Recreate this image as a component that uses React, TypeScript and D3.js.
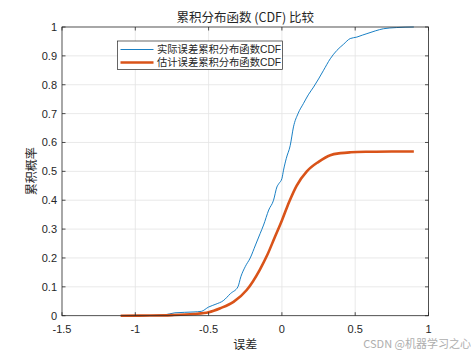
import React from "react";
import * as d3 from "d3";

const actualX = [-0.95, -0.8, -0.73, -0.6, -0.55, -0.5, -0.45, -0.4, -0.35, -0.3, -0.28, -0.25, -0.216, -0.18, -0.148, -0.125, -0.09, -0.057, -0.034, -0.02, 0, 0.011, 0.03, 0.057, 0.079, 0.11, 0.147, 0.18, 0.216, 0.25, 0.284, 0.33, 0.375, 0.42, 0.466, 0.511, 0.55, 0.58, 0.64, 0.693, 0.78, 0.9];
const actualY = [0, 0.003, 0.01, 0.013, 0.015, 0.03, 0.04, 0.052, 0.077, 0.1, 0.135, 0.17, 0.2, 0.245, 0.285, 0.314, 0.366, 0.4, 0.446, 0.458, 0.475, 0.504, 0.545, 0.59, 0.654, 0.7, 0.735, 0.765, 0.792, 0.82, 0.85, 0.89, 0.919, 0.94, 0.96, 0.965, 0.972, 0.977, 0.987, 0.994, 0.998, 1.0];

const estX = [-1.1, -0.9, -0.75, -0.6, -0.5, -0.42, -0.33, -0.24, -0.15, -0.1, -0.05, 0, 0.05, 0.1, 0.17, 0.25, 0.33, 0.4, 0.47, 0.6, 0.75, 0.9];
const estY = [0, 0.0005, 0.002, 0.006, 0.012, 0.026, 0.048, 0.089, 0.16, 0.21, 0.27, 0.33, 0.395, 0.45, 0.5, 0.533, 0.556, 0.563, 0.566, 0.568, 0.569, 0.569];

const xTicks = [-1.5, -1, -0.5, 0, 0.5, 1];
const yTicks = [0, 0.1, 0.2, 0.3, 0.4, 0.5, 0.6, 0.7, 0.8, 0.9, 1];

const title = "累积分布函数 (CDF) 比较";
const xLabel = "误差";
const yLabel = "累积概率";
const legendLabels = ["实际误差累积分布函数CDF", "估计误差累积分布函数CDF"];
const watermark = "CSDN @机器学习之心";

const W = 474, H = 355;
const L = 62, R = 428.5, T = 27, B = 315.7;
const FONT = "'Liberation Sans', Arial, 'Noto Sans CJK SC', sans-serif";
const CJK = "'Noto Sans CJK SC', 'Liberation Sans', sans-serif";
const AX = "#262626";

export default function App() {
  const x = d3.scaleLinear().domain([-1.5, 1]).range([L, R]);
  const y = d3.scaleLinear().domain([0, 1]).range([B, T]);
  const line = d3.line<[number, number]>().x(d => x(d[0])).y(d => y(d[1])).curve(d3.curveMonotoneX);
  const actual = actualX.map((v, i) => [v, actualY[i]] as [number, number]);
  const est = estX.map((v, i) => [v, estY[i]] as [number, number]);
  const fmt = (v: number) => String(v);
  return (
    <svg width={W} height={H} style={{ position: "absolute", left: 0, top: 0, background: "#fff" }}>
      <rect x={0} y={0} width={W} height={H} fill="#fff" />
      {xTicks.slice(1, -1).map(t => (
        <line key={"gx" + t} x1={x(t)} x2={x(t)} y1={T} y2={B} stroke="#e3e3e3" strokeWidth={0.8} />
      ))}
      {yTicks.slice(1, -1).map(t => (
        <line key={"gy" + t} x1={L} x2={R} y1={y(t)} y2={y(t)} stroke="#e3e3e3" strokeWidth={0.8} />
      ))}
      <path d={line(actual) || ""} fill="none" stroke="#0072BD" strokeWidth={0.9} strokeLinejoin="round" />
      <path d={line(est) || ""} fill="none" stroke="#D95319" strokeWidth={2.6} strokeLinejoin="round" />
      <rect x={L} y={T} width={R - L} height={B - T} fill="none" stroke={AX} strokeWidth={0.8} />
      {xTicks.map(t => (
        <g key={"tx" + t}>
          <line x1={x(t)} x2={x(t)} y1={B} y2={B - 3.5} stroke={AX} strokeWidth={0.8} />
          <line x1={x(t)} x2={x(t)} y1={T} y2={T + 3.5} stroke={AX} strokeWidth={0.8} />
          <text x={x(t)} y={333} textAnchor="middle" fontFamily={FONT} fontSize={11} fill={AX}>{fmt(t)}</text>
        </g>
      ))}
      {yTicks.map(t => (
        <g key={"ty" + t}>
          <line x1={L} x2={L + 3.5} y1={y(t)} y2={y(t)} stroke={AX} strokeWidth={0.8} />
          <line x1={R} x2={R - 3.5} y1={y(t)} y2={y(t)} stroke={AX} strokeWidth={0.8} />
          <text x={57} y={y(t) + 4} textAnchor="end" fontFamily={FONT} fontSize={11} fill={AX}>{fmt(t)}</text>
        </g>
      ))}
      <text x={(L + R) / 2} y={22} textAnchor="middle" fontFamily={CJK} fontSize={12.5} fill={AX}>{title}</text>
      <text x={(L + R) / 2} y={349} textAnchor="middle" fontFamily={CJK} fontSize={12} fill={AX}>{xLabel}</text>
      <text transform={`translate(36,${(T + B) / 2}) rotate(-90)`} textAnchor="middle" fontFamily={CJK} fontSize={12} fill={AX}>{yLabel}</text>
      <rect x={117.5} y={41} width={165} height={28.5} fill="#fff" stroke={AX} strokeWidth={0.7} />
      <line x1={120.5} x2={153.5} y1={49.5} y2={49.5} stroke="#0072BD" strokeWidth={0.9} />
      <line x1={120.5} x2={153.5} y1={62.5} y2={62.5} stroke="#D95319" strokeWidth={2.6} />
      <text x={157} y={53.3} fontFamily={FONT} fontSize={10.3} fill={AX}>{legendLabels[0]}</text>
      <text x={157} y={66.3} fontFamily={FONT} fontSize={10.3} fill={AX}>{legendLabels[1]}</text>
      <text x={471} y={348} textAnchor="end" fontFamily={CJK} fontSize={11} fill="#9a9a9a" opacity={0.8}>{watermark}</text>
    </svg>
  );
}
